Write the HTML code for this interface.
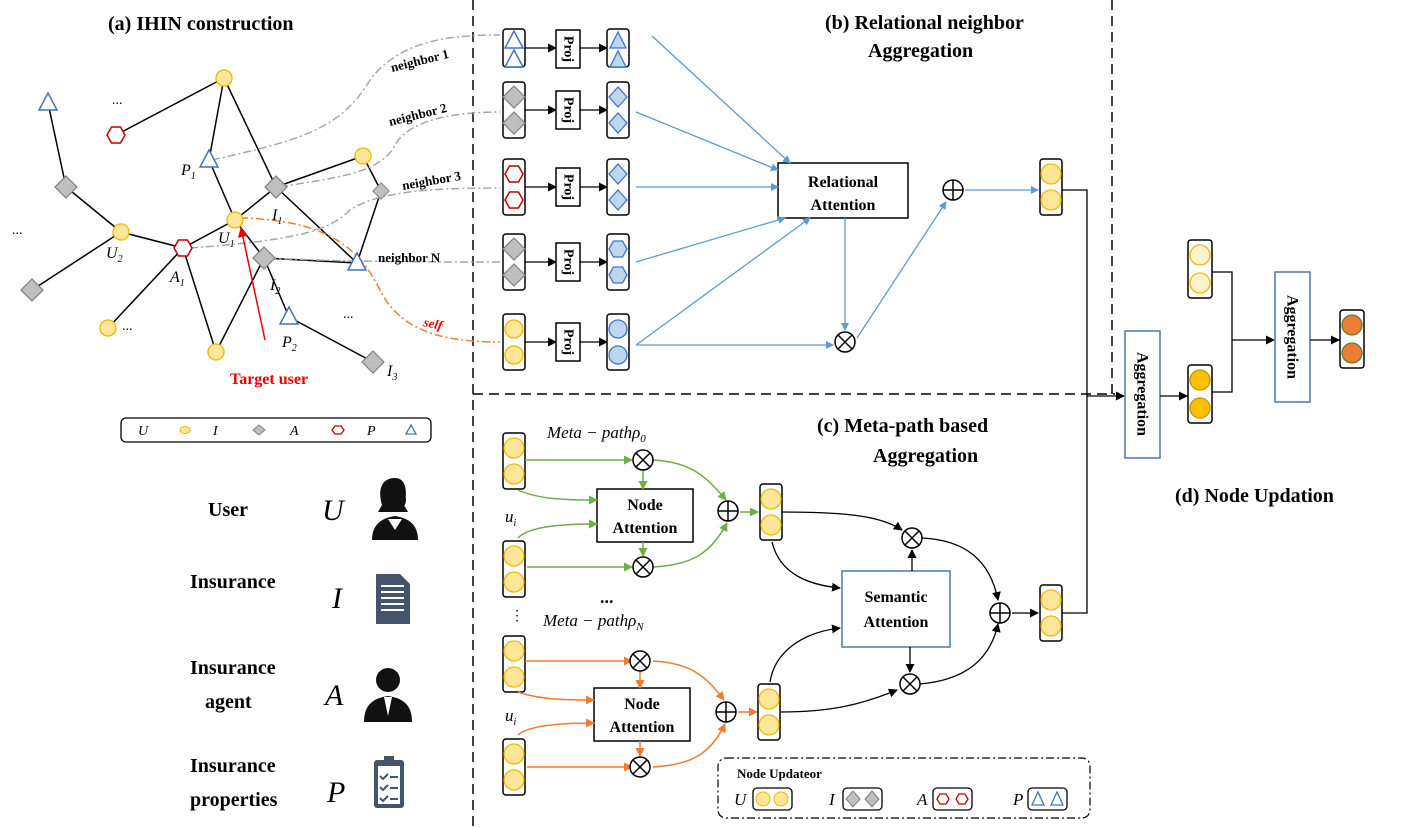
<!DOCTYPE html>
<html><head><meta charset="utf-8"><style>
body{margin:0;background:#fff}
svg{display:block;font-family:"Liberation Serif",serif}
.b{font-weight:bold}
</style></head><body>
<svg width="1426" height="828" viewBox="0 0 1426 828" xmlns="http://www.w3.org/2000/svg">
<defs>
<marker id="ab" markerWidth="8" markerHeight="8" refX="7" refY="4" orient="auto" markerUnits="userSpaceOnUse"><path d="M0,0 L8,4 L0,8z" fill="#5b9bd5"/></marker>
<marker id="ak" markerWidth="9" markerHeight="9" refX="8" refY="4.5" orient="auto" markerUnits="userSpaceOnUse"><path d="M0,0 L9,4.5 L0,9z" fill="#000"/></marker>
<marker id="ag" markerWidth="9" markerHeight="9" refX="8" refY="4.5" orient="auto" markerUnits="userSpaceOnUse"><path d="M0,0 L9,4.5 L0,9z" fill="#70ad47"/></marker>
<marker id="ao" markerWidth="9" markerHeight="9" refX="8" refY="4.5" orient="auto" markerUnits="userSpaceOnUse"><path d="M0,0 L9,4.5 L0,9z" fill="#ed7d31"/></marker>
<marker id="ar" markerWidth="10" markerHeight="10" refX="9" refY="5" orient="auto" markerUnits="userSpaceOnUse"><path d="M0,0 L10,5 L0,10z" fill="#e00"/></marker>
<g id="yv"><rect x="-11" y="-28" width="22" height="56" rx="3" fill="#fff" stroke="#000" stroke-width="1.5"/><circle cx="0" cy="-13" r="10" fill="#ffe699" stroke="#f0b800" stroke-width="1.3"/><circle cx="0" cy="13" r="10" fill="#ffe699" stroke="#f0b800" stroke-width="1.3"/></g>
<g id="ot"><circle r="10" fill="#fff" stroke="#000" stroke-width="1.5"/><path d="M-7,-7 L7,7 M7,-7 L-7,7" stroke="#000" stroke-width="1.5"/></g>
<g id="op"><circle r="10" fill="#fff" stroke="#000" stroke-width="1.5"/><path d="M-10,0 H10 M0,-10 V10" stroke="#000" stroke-width="1.5"/></g>
<g id="dm"><path d="M0,-11 L11,0 L0,11 L-11,0z" fill="#bfbfbf" stroke="#808080" stroke-width="1.2"/></g>
<g id="hx"><path d="M-9,0 L-4.5,-8 L4.5,-8 L9,0 L4.5,8 L-4.5,8z" fill="#fff" stroke="#c00000" stroke-width="1.5"/></g>
<g id="tr"><path d="M0,-10 L9,7 L-9,7z" fill="#fff" stroke="#4472c4" stroke-width="1.5"/></g>
<g id="tb"><path d="M0,-9 L8,7 L-8,7z" fill="#bdd7ee" stroke="#4472c4" stroke-width="1.3"/></g>
<g id="db"><path d="M0,-10 L9,0 L0,10 L-9,0z" fill="#bdd7ee" stroke="#4472c4" stroke-width="1.3"/></g>
<g id="hb"><path d="M-9,0 L-4.5,-8 L4.5,-8 L9,0 L4.5,8 L-4.5,8z" fill="#bdd7ee" stroke="#4472c4" stroke-width="1.3"/></g>
</defs>

<g stroke="#000" stroke-width="1.5" stroke-dasharray="10,6" fill="none">
<path d="M473,0 V828"/><path d="M473,394 H1115"/><path d="M1112,0 V394"/>
</g>

<!-- (a) -->
<text x="108" y="30" font-size="20" class="b">(a) IHIN construction</text>
<g stroke="#000" stroke-width="1.5">
<line x1="48" y1="103" x2="66" y2="187"/><line x1="66" y1="187" x2="121" y2="232"/>
<line x1="121" y1="232" x2="32" y2="290"/><line x1="121" y1="232" x2="183" y2="248"/>
<line x1="183" y1="248" x2="235" y2="220"/><line x1="183" y1="248" x2="108" y2="328"/>
<line x1="183" y1="248" x2="216" y2="352"/><line x1="216" y1="352" x2="264" y2="258"/>
<line x1="116" y1="135" x2="224" y2="78"/><line x1="224" y1="78" x2="209" y2="160"/>
<line x1="224" y1="78" x2="276" y2="187"/><line x1="209" y1="160" x2="235" y2="220"/>
<line x1="235" y1="220" x2="276" y2="187"/><line x1="276" y1="187" x2="363" y2="156"/>
<line x1="363" y1="156" x2="381" y2="191"/><line x1="381" y1="191" x2="357" y2="263"/>
<line x1="276" y1="187" x2="357" y2="263"/><line x1="235" y1="220" x2="264" y2="258"/>
<line x1="264" y1="258" x2="357" y2="263"/><line x1="264" y1="258" x2="289" y2="317"/>
<line x1="289" y1="317" x2="373" y2="362"/>
</g>
<g fill="none" stroke="#a6a6a6" stroke-width="1.5" stroke-dasharray="8,3,2,3">
<path d="M212,160 C300,140 340,130 370,80 C400,40 450,35 500,35"/>
<path d="M280,187 C330,178 380,175 395,145 C410,118 460,112 500,112"/>
<path d="M190,248 C300,240 330,230 350,210 C380,190 440,188 500,188"/>
<path d="M268,258 C350,262 420,262 500,262"/>
</g>
<path d="M240,218 C330,220 360,250 380,290 C400,330 440,342 500,342" fill="none" stroke="#ed7d31" stroke-width="1.5" stroke-dasharray="8,3,2,3"/>
<g font-size="13" class="b" fill="#000">
<text x="392" y="72" transform="rotate(-14 392 72)">neighbor 1</text>
<text x="390" y="126" transform="rotate(-14 390 126)">neighbor 2</text>
<text x="403" y="190" transform="rotate(-10 403 190)">neighbor 3</text>
<text x="378" y="262">neighbor N</text>
</g>
<text x="423" y="326" font-size="13" class="b" font-style="italic" fill="#e00" transform="rotate(12 423 326)">self</text>
<use href="#tr" x="48" y="103"/><use href="#hx" x="116" y="135"/>
<circle cx="224" cy="78" r="8" fill="#ffe699" stroke="#f0b800" stroke-width="1.3"/>
<use href="#tr" x="209" y="160"/><use href="#dm" x="276" y="187"/>
<circle cx="363" cy="156" r="8" fill="#ffe699" stroke="#f0b800" stroke-width="1.3"/>
<g transform="translate(381,191) scale(0.75)"><use href="#dm"/></g>
<use href="#dm" x="66" y="187"/>
<circle cx="121" cy="232" r="8" fill="#ffe699" stroke="#f0b800" stroke-width="1.3"/>
<use href="#hx" x="183" y="248"/>
<circle cx="235" cy="220" r="8" fill="#ffe699" stroke="#f0b800" stroke-width="1.3"/>
<use href="#dm" x="264" y="258"/><use href="#tr" x="357" y="263"/>
<use href="#dm" x="32" y="290"/>
<circle cx="108" cy="328" r="8" fill="#ffe699" stroke="#f0b800" stroke-width="1.3"/>
<circle cx="216" cy="352" r="8" fill="#ffe699" stroke="#f0b800" stroke-width="1.3"/>
<use href="#tr" x="289" y="317"/><use href="#dm" x="373" y="362"/>
<line x1="265" y1="340" x2="241" y2="228" stroke="#e00" stroke-width="1.5" marker-end="url(#ar)"/>
<g font-size="16" font-style="italic">
<text x="181" y="175">P<tspan font-size="10" dy="4">1</tspan></text>
<text x="272" y="220">I<tspan font-size="10" dy="4">1</tspan></text>
<text x="106" y="258">U<tspan font-size="10" dy="4">2</tspan></text>
<text x="170" y="282">A<tspan font-size="10" dy="4">1</tspan></text>
<text x="218" y="243">U<tspan font-size="10" dy="4">1</tspan></text>
<text x="270" y="290">I<tspan font-size="10" dy="4">2</tspan></text>
<text x="282" y="347">P<tspan font-size="10" dy="4">2</tspan></text>
<text x="387" y="376">I<tspan font-size="10" dy="4">3</tspan></text>
</g>
<g font-size="14"><text x="112" y="104">...</text><text x="12" y="234">...</text><text x="122" y="330">...</text><text x="343" y="318">...</text></g>
<text x="230" y="384" font-size="16" class="b" fill="#e00">Target user</text>
<rect x="121" y="418" width="310" height="24" rx="5" fill="#fff" stroke="#000" stroke-width="1.3"/>
<g font-size="14" font-style="italic"><text x="138" y="435">U</text><text x="213" y="435">I</text><text x="290" y="435">A</text><text x="367" y="435">P</text></g>
<ellipse cx="185" cy="430" rx="5" ry="3.5" fill="#ffe699" stroke="#f0b800"/>
<path d="M259,425 L265,430 L259,435 L253,430z" fill="#bfbfbf" stroke="#808080"/>
<path d="M332,430 L335,426 L341,426 L344,430 L341,434 L335,434z" fill="#fff" stroke="#c00000" stroke-width="1.3"/>
<path d="M411,425 L416,434 L406,434z" fill="#fff" stroke="#4472c4" stroke-width="1.3"/>
<g font-size="20" class="b">
<text x="208" y="516">User</text><text x="190" y="588">Insurance</text>
<text x="190" y="674">Insurance</text><text x="205" y="708">agent</text>
<text x="190" y="772">Insurance</text><text x="190" y="806">properties</text>
</g>
<g font-size="30" font-style="italic"><text x="322" y="520">U</text><text x="332" y="608">I</text><text x="325" y="705">A</text><text x="327" y="802">P</text></g>
<g fill="#111">
<path d="M395,478 C380,478 378,492 382,505 L378,512 L408,512 L404,505 C408,492 406,478 395,478z"/>
<path d="M372,540 C372,524 382,518 395,516 C408,518 418,524 418,540z"/>
<circle cx="395" cy="500" r="11" fill="#111"/>
</g>
<path d="M388,519 L395,530 L402,519z" fill="#fff"/>
<path d="M376,574 H400 L410,584 V624 H376z" fill="#44546a"/>
<g stroke="#fff" stroke-width="2"><line x1="381" y1="586" x2="404" y2="586"/><line x1="381" y1="592" x2="404" y2="592"/><line x1="381" y1="598" x2="404" y2="598"/><line x1="381" y1="604" x2="404" y2="604"/><line x1="381" y1="610" x2="404" y2="610"/></g>
<g fill="#111">
<circle cx="388" cy="680" r="12"/>
<path d="M364,722 C364,704 374,698 388,696 C402,698 412,704 412,722z"/>
</g>
<path d="M384,697 L388,716 L392,697z" fill="#fff"/>
<rect x="374" y="760" width="30" height="48" rx="3" fill="#44546a"/>
<rect x="384" y="756" width="10" height="8" fill="#44546a"/>
<rect x="378" y="766" width="22" height="38" fill="#fff"/>
<g stroke="#44546a" stroke-width="2" fill="none"><path d="M380,776 l3,3 l5,-5"/><path d="M380,787 l3,3 l5,-5"/><path d="M380,798 l3,3 l5,-5"/><line x1="390" y1="777" x2="398" y2="777"/><line x1="390" y1="788" x2="398" y2="788"/><line x1="390" y1="799" x2="398" y2="799"/></g>

<!-- (b) -->
<text x="825" y="29" font-size="20" class="b">(b) Relational neighbor</text>
<text x="868" y="57" font-size="20" class="b">Aggregation</text>
<g fill="#fff" stroke="#000" stroke-width="1.5">
<rect x="503" y="29" width="22" height="38" rx="3"/><rect x="607" y="29" width="22" height="38" rx="3"/>
<rect x="503" y="82" width="22" height="56" rx="3"/><rect x="607" y="82" width="22" height="56" rx="3"/>
<rect x="503" y="159" width="22" height="56" rx="3"/><rect x="607" y="159" width="22" height="56" rx="3"/>
<rect x="503" y="234" width="22" height="56" rx="3"/><rect x="607" y="234" width="22" height="56" rx="3"/>
<rect x="503" y="314" width="22" height="56" rx="3"/><rect x="607" y="314" width="22" height="56" rx="3"/>
</g>
<use href="#tr" x="514" y="41"/><use href="#tr" x="514" y="60"/>
<use href="#tb" x="618" y="41"/><use href="#tb" x="618" y="60"/>
<use href="#dm" x="514" y="97"/><use href="#dm" x="514" y="123"/>
<use href="#db" x="618" y="97"/><use href="#db" x="618" y="123"/>
<use href="#hx" x="514" y="174"/><use href="#hx" x="514" y="200"/>
<use href="#db" x="618" y="174"/><use href="#db" x="618" y="200"/>
<use href="#dm" x="514" y="249"/><use href="#dm" x="514" y="275"/>
<use href="#hb" x="618" y="249"/><use href="#hb" x="618" y="275"/>
<circle cx="514" cy="329" r="9" fill="#ffe699" stroke="#f0b800" stroke-width="1.3"/><circle cx="514" cy="355" r="9" fill="#ffe699" stroke="#f0b800" stroke-width="1.3"/>
<circle cx="618" cy="329" r="9" fill="#bdd7ee" stroke="#4472c4" stroke-width="1.3"/><circle cx="618" cy="355" r="9" fill="#bdd7ee" stroke="#4472c4" stroke-width="1.3"/>
<g fill="#fff" stroke="#000" stroke-width="1.5">
<rect x="556" y="30" width="24" height="38"/><rect x="556" y="91" width="24" height="38"/><rect x="556" y="168" width="24" height="38"/><rect x="556" y="243" width="24" height="38"/><rect x="556" y="323" width="24" height="38"/>
</g>
<g font-size="14" class="b" text-anchor="middle" dominant-baseline="central">
<text transform="translate(568,49) rotate(90)">Proj</text>
<text transform="translate(568,110) rotate(90)">Proj</text>
<text transform="translate(568,187) rotate(90)">Proj</text>
<text transform="translate(568,262) rotate(90)">Proj</text>
<text transform="translate(568,342) rotate(90)">Proj</text>
</g>
<g stroke="#000" stroke-width="1.3" marker-end="url(#ak)">
<line x1="525" y1="48" x2="556" y2="48"/><line x1="580" y1="48" x2="607" y2="48"/>
<line x1="525" y1="110" x2="556" y2="110"/><line x1="580" y1="110" x2="607" y2="110"/>
<line x1="525" y1="187" x2="556" y2="187"/><line x1="580" y1="187" x2="607" y2="187"/>
<line x1="525" y1="262" x2="556" y2="262"/><line x1="580" y1="262" x2="607" y2="262"/>
<line x1="525" y1="342" x2="556" y2="342"/><line x1="580" y1="342" x2="607" y2="342"/>
</g>
<rect x="778" y="163" width="130" height="55" fill="#fff" stroke="#000" stroke-width="1.5"/>
<text x="843" y="187" font-size="16" class="b" text-anchor="middle">Relational</text>
<text x="843" y="210" font-size="16" class="b" text-anchor="middle">Attention</text>
<g stroke="#5b9bd5" stroke-width="1.3" fill="none" marker-end="url(#ab)">
<line x1="652" y1="36" x2="790" y2="163"/>
<line x1="636" y1="112" x2="778" y2="170"/>
<line x1="636" y1="187" x2="778" y2="187"/>
<line x1="636" y1="262" x2="785" y2="218"/>
<line x1="636" y1="345" x2="810" y2="218"/>
<line x1="636" y1="345" x2="833" y2="345"/>
<line x1="845" y1="218" x2="845" y2="330"/>
<line x1="857" y1="338" x2="946" y2="202"/>
<line x1="965" y1="190" x2="1038" y2="190"/>
</g>
<use href="#ot" x="845" y="342"/><use href="#op" x="953" y="190"/>
<use href="#yv" x="1051" y="187"/>

<!-- (c) -->
<text x="817" y="432" font-size="20" class="b">(c) Meta-path based</text>
<text x="873" y="462" font-size="20" class="b">Aggregation</text>
<g font-size="17" font-style="italic">
<text x="547" y="438">Meta − pathρ<tspan font-size="11" dy="4">0</tspan></text>
<text x="543" y="626">Meta − pathρ<tspan font-size="11" dy="4">N</tspan></text>
<text x="505" y="522">u<tspan font-size="10" dy="4">i</tspan></text>
<text x="505" y="721">u<tspan font-size="10" dy="4">i</tspan></text>
</g>
<text x="600" y="603" font-size="18" class="b">...</text>
<text x="510" y="620" font-size="14">⋮</text>
<use href="#yv" x="514" y="461"/><use href="#yv" x="514" y="569"/>
<use href="#yv" x="514" y="664"/><use href="#yv" x="514" y="767"/>
<rect x="597" y="489" width="96" height="53" fill="#fff" stroke="#000" stroke-width="1.5"/>
<text x="645" y="510" font-size="16" class="b" text-anchor="middle">Node</text>
<text x="645" y="533" font-size="16" class="b" text-anchor="middle">Attention</text>
<rect x="594" y="688" width="96" height="53" fill="#fff" stroke="#000" stroke-width="1.5"/>
<text x="642" y="709" font-size="16" class="b" text-anchor="middle">Node</text>
<text x="642" y="732" font-size="16" class="b" text-anchor="middle">Attention</text>
<g stroke="#70ad47" stroke-width="1.5" fill="none" marker-end="url(#ag)">
<line x1="525" y1="460" x2="632" y2="460"/>
<path d="M518,490 C540,500 570,500 597,500"/>
<path d="M518,538 C530,525 570,524 597,524"/>
<line x1="527" y1="567" x2="632" y2="567"/>
<line x1="643" y1="470" x2="643" y2="489"/>
<line x1="643" y1="542" x2="643" y2="556"/>
<path d="M653,460 C690,462 705,475 726,500"/>
<path d="M653,567 C690,565 710,555 727,523"/>
<line x1="740" y1="512" x2="758" y2="512"/>
</g>
<g stroke="#ed7d31" stroke-width="1.5" fill="none" marker-end="url(#ao)">
<line x1="525" y1="661" x2="632" y2="661"/>
<path d="M518,692 C540,700 570,700 594,700"/>
<path d="M518,735 C530,724 570,723 594,723"/>
<line x1="527" y1="767" x2="632" y2="767"/>
<line x1="640" y1="671" x2="640" y2="688"/>
<line x1="640" y1="741" x2="640" y2="756"/>
<path d="M653,661 C690,663 705,675 724,700"/>
<path d="M653,767 C690,765 710,755 725,724"/>
<line x1="738" y1="712" x2="757" y2="712"/>
</g>
<use href="#ot" x="643" y="460"/><use href="#ot" x="643" y="567"/><use href="#op" x="728" y="511"/>
<use href="#ot" x="640" y="661"/><use href="#ot" x="640" y="767"/><use href="#op" x="726" y="712"/>
<use href="#yv" x="771" y="512"/><use href="#yv" x="769" y="712"/>
<rect x="842" y="571" width="108" height="76" fill="#fff" stroke="#4e79a7" stroke-width="1.5"/>
<text x="896" y="602" font-size="16" class="b" text-anchor="middle">Semantic</text>
<text x="896" y="627" font-size="16" class="b" text-anchor="middle">Attention</text>
<g stroke="#000" stroke-width="1.3" fill="none" marker-end="url(#ak)">
<path d="M782,512 C840,512 880,515 902,530"/>
<path d="M772,542 C780,575 810,585 840,588"/>
<path d="M781,712 C830,712 860,705 897,690"/>
<path d="M770,682 C775,650 805,632 840,628"/>
<line x1="912" y1="571" x2="912" y2="550"/>
<line x1="910" y1="647" x2="910" y2="672"/>
<path d="M922,538 C965,540 990,560 998,600"/>
<path d="M920,684 C965,680 990,660 998,624"/>
<line x1="1012" y1="613" x2="1038" y2="613"/>
</g>
<use href="#ot" x="912" y="538"/><use href="#ot" x="910" y="684"/><use href="#op" x="1000" y="613"/>
<use href="#yv" x="1051" y="613"/>
<rect x="718" y="758" width="372" height="60" rx="8" fill="none" stroke="#000" stroke-width="1.2" stroke-dasharray="8,3,2,3"/>
<text x="737" y="778" font-size="13" class="b">Node Updateor</text>
<g font-size="17" font-style="italic"><text x="734" y="805">U</text><text x="829" y="805">I</text><text x="917" y="805">A</text><text x="1013" y="805">P</text></g>
<rect x="753" y="788" width="39" height="22" rx="4" fill="#fff" stroke="#000" stroke-width="1.3"/>
<circle cx="763" cy="799" r="7" fill="#ffe699" stroke="#f0b800"/><circle cx="781" cy="799" r="7" fill="#ffe699" stroke="#f0b800"/>
<rect x="843" y="788" width="39" height="22" rx="4" fill="#fff" stroke="#000" stroke-width="1.3"/>
<path d="M853,791 L860,799 L853,807 L846,799z M872,791 L879,799 L872,807 L865,799z" fill="#bfbfbf" stroke="#808080"/>
<rect x="933" y="788" width="39" height="22" rx="4" fill="#fff" stroke="#000" stroke-width="1.3"/>
<path d="M937,799 L940,794 L946,794 L949,799 L946,804 L940,804z M956,799 L959,794 L965,794 L968,799 L965,804 L959,804z" fill="#fff" stroke="#c00000" stroke-width="1.3"/>
<rect x="1028" y="788" width="39" height="22" rx="4" fill="#fff" stroke="#000" stroke-width="1.3"/>
<path d="M1038,792 L1044,805 L1032,805z M1057,792 L1063,805 L1051,805z" fill="#fff" stroke="#4472c4" stroke-width="1.3"/>

<!-- (d) -->
<path d="M1062,190 H1087 V613 H1062" fill="none" stroke="#000" stroke-width="1.3"/>
<line x1="1087" y1="396" x2="1124" y2="396" stroke="#000" stroke-width="1.3" marker-end="url(#ak)"/>
<rect x="1125" y="331" width="35" height="127" fill="#fff" stroke="#4e79a7" stroke-width="1.5"/>
<text transform="translate(1142,394) rotate(90)" font-size="16" class="b" text-anchor="middle" dominant-baseline="central">Aggregation</text>
<line x1="1160" y1="396" x2="1187" y2="396" stroke="#000" stroke-width="1.3" marker-end="url(#ak)"/>
<g transform="translate(1200,269)"><rect x="-12" y="-29" width="24" height="58" rx="3" fill="#fff" stroke="#000" stroke-width="1.5"/><circle cy="-14" r="10" fill="#fff2cc" stroke="#f0b800" stroke-width="1.3"/><circle cy="14" r="10" fill="#fff2cc" stroke="#f0b800" stroke-width="1.3"/></g>
<g transform="translate(1200,394)"><rect x="-12" y="-29" width="24" height="58" rx="3" fill="#fff" stroke="#000" stroke-width="1.5"/><circle cy="-14" r="10" fill="#ffc000" stroke="#c09000" stroke-width="1.3"/><circle cy="14" r="10" fill="#ffc000" stroke="#c09000" stroke-width="1.3"/></g>
<path d="M1212,272 H1232 V392 H1212" fill="none" stroke="#000" stroke-width="1.3"/>
<line x1="1232" y1="340" x2="1274" y2="340" stroke="#000" stroke-width="1.3" marker-end="url(#ak)"/>
<rect x="1275" y="272" width="35" height="130" fill="#fff" stroke="#4e79a7" stroke-width="1.5"/>
<text transform="translate(1292,337) rotate(90)" font-size="16" class="b" text-anchor="middle" dominant-baseline="central">Aggregation</text>
<line x1="1310" y1="340" x2="1339" y2="340" stroke="#000" stroke-width="1.3" marker-end="url(#ak)"/>
<g transform="translate(1352,339)"><rect x="-12" y="-29" width="24" height="58" rx="3" fill="#fff" stroke="#000" stroke-width="1.5"/><circle cy="-14" r="10" fill="#ed7d31" stroke="#548235" stroke-width="1.3"/><circle cy="14" r="10" fill="#ed7d31" stroke="#548235" stroke-width="1.3"/></g>
<text x="1175" y="502" font-size="20" class="b">(d) Node Updation</text>
</svg>
</body></html>
